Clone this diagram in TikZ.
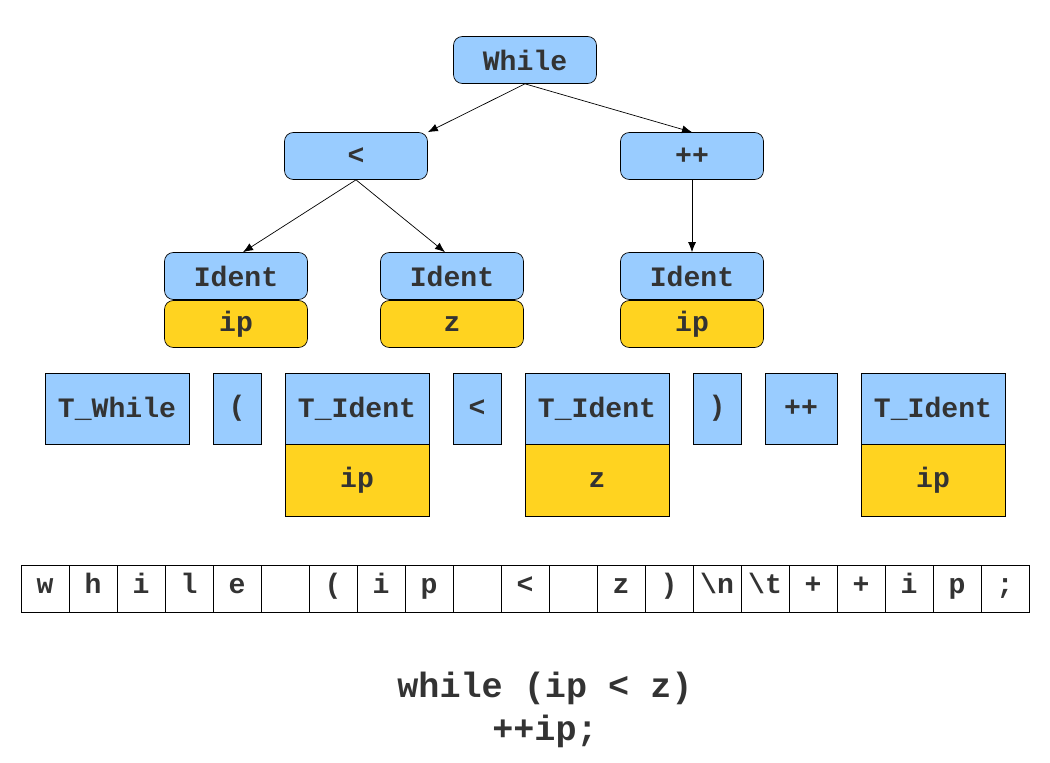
\documentclass[tikz,border=0pt]{standalone}
\usepackage{fontspec}
\setmonofont{Liberation Mono}
\usetikzlibrary{arrows.meta}
\definecolor{tokblue}{HTML}{99CCFF}
\definecolor{valyel}{HTML}{FFD320}
\definecolor{txtgray}{HTML}{333333}
\newcommand{\lpar}{(}
\newcommand{\rpar}{)}
\begin{document}
\begin{tikzpicture}[x=0.02cm, y=-0.02cm,
        every node/.style={text=txtgray, font=\ttfamily\bfseries\fontsize{16}{16}\selectfont},
        tree/.style={draw, fill=tokblue, rounded corners=5pt, minimum width=2.86cm, minimum height=0.94cm, inner sep=0pt},
        treeval/.style={tree, fill=valyel},
        tok/.style={draw, fill=tokblue, minimum height=1.42cm, inner sep=0pt},
        tokval/.style={draw, fill=valyel, minimum width=2.88cm, minimum height=1.44cm, inner sep=0pt},
        chr/.style={draw, fill=white, minimum width=0.96cm, minimum height=0.94cm, inner sep=0pt, text height=1.6ex, text depth=0.4ex},
        line/.style={-{Latex[length=2mm, width=1.6mm]}, thin}]
    \useasboundingbox (0,0) rectangle (1050,763);

    % Tree
    \node[tree] (while) at (525,60) {While};
    \node[tree] (lt) at (356,156) {<};
    \node[tree] (inc) at (692,156) {++};
    \node[tree] (id1) at (236,276) {Ident};
    \node[treeval] (v1) at (236,324) {ip};
    \node[tree] (id2) at (452,276) {Ident};
    \node[treeval] (v2) at (452,324) {z};
    \node[tree] (id3) at (692,276) {Ident};
    \node[treeval] (v3) at (692,324) {ip};

    \draw[line] (while.south) -- (lt.north east);
    \draw[line] (while.south) -- (inc.north);
    \draw[line] (lt.south) -- ([xshift=4pt]id1.north);
    \draw[line] (lt.south) -- ([xshift=-4pt]id2.north);
    \draw[line] (inc.south) -- (id3.north);

    % Tokens
    \node[tok, minimum width=2.88cm] (t1) at (117,408.5) {T\_While};
    \node[tok, minimum width=0.96cm] (t2) at (237,408.5) {(};
    \node[tok, minimum width=2.88cm] (t3) at (357,408.5) {T\_Ident};
    \node[tokval] (t3v) at (357,480) {ip};
    \node[tok, minimum width=0.96cm] (t4) at (477,408.5) {<};
    \node[tok, minimum width=2.88cm] (t5) at (597,408.5) {T\_Ident};
    \node[tokval] (t5v) at (597,480) {z};
    \node[tok, minimum width=0.96cm] (t6) at (717,408.5) {)};
    \node[tok, minimum width=1.44cm] (t7) at (801,408.5) {++};
    \node[tok, minimum width=2.88cm] (t8) at (933,408.5) {T\_Ident};
    \node[tokval] (t8v) at (933,480) {ip};

    % Characters
    \foreach \c [count=\i from 0] in {w,h,i,l,e,~,\lpar,i,p,~,<,~,z,\rpar,\textbackslash n,\textbackslash t,+,+,i,p,;}
        \node[chr] (c\i) at (45+48*\i,588.5) {\c};

    % Source
    \node[font=\ttfamily\bfseries\fontsize{20}{20}\selectfont] (src1) at (545,688) {while (ip < z)};
    \node[font=\ttfamily\bfseries\fontsize{20}{20}\selectfont] (src2) at (545,731) {++ip;};
\end{tikzpicture}
\end{document}
